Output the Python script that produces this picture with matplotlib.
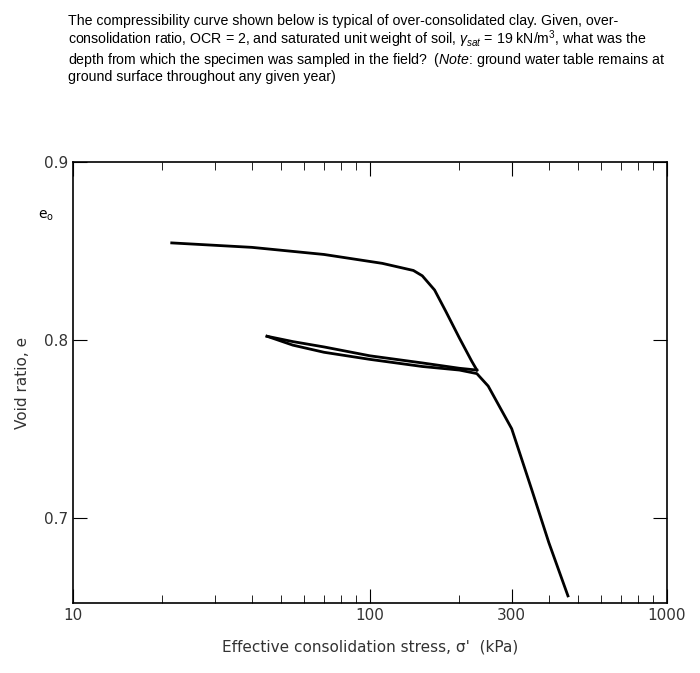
import matplotlib
matplotlib.use("Agg")
import matplotlib.pyplot as plt
import numpy as np

plt.rcParams["mathtext.fontset"] = "custom"
plt.rcParams["mathtext.it"] = "Liberation Sans:italic"
plt.rcParams["mathtext.rm"] = "Liberation Sans"

load_x = [21.5, 40, 70, 110, 140, 150, 165, 180, 200, 220, 229]
load_e = [0.8545, 0.852, 0.848, 0.843, 0.839, 0.836, 0.828, 0.816, 0.801, 0.788, 0.783]
unload_x = [229, 200, 150, 100, 70, 55, 45]
unload_e = [0.783, 0.784, 0.787, 0.791, 0.796, 0.799, 0.802]
reload_x = [45, 55, 70, 100, 150, 200, 229, 250, 300, 350, 400, 464]
reload_e = [0.802, 0.797, 0.793, 0.789, 0.785, 0.783, 0.781, 0.774, 0.750, 0.716, 0.686, 0.656]
xticks = [10, 100, 300, 1000]
xlabels = ["10", "100", "300", "1000"]
yticks = [0.7, 0.8, 0.9]
ylabels = ["0.7", "0.8", "0.9"]

fig = plt.figure(figsize=(7, 6.73), dpi=100)
ax = fig.add_axes([73/700, 1-603/673, (667-73)/700, (603-162)/673])
for x, e in [(load_x, load_e), (unload_x, unload_e), (reload_x, reload_e)]:
    ax.plot(x, e, color="black", lw=2, solid_joinstyle="round")
ax.set_xscale("log")
ax.set_xlim(10, 1000)
ax.set_ylim(0.652, 0.9)
ax.set_xticks(xticks)
ax.set_xticklabels(xlabels, fontsize=11, color="#333")
ax.set_yticks(yticks)
ax.set_yticklabels(ylabels, fontsize=11, color="#333")
ax.tick_params(which="both", direction="in", top=True, right=True, length=10)
ax.tick_params(which="minor", length=6)
ax.text(-0.045, 0.87, r"e$_\mathregular{o}$", transform=ax.get_yaxis_transform(), ha="center", va="center", fontsize=10)
ax.set_xlabel("Effective consolidation stress, σ'  (kPa)", fontsize=11, color="#333", labelpad=12)
ax.set_ylabel("Void ratio, e", fontsize=11, color="#333", labelpad=10)
for s in ax.spines.values():
    s.set_linewidth(1.2)
fig.text(68/700, 1-14/673, "The compressibility curve shown below is typical of over-consolidated clay. Given, over-\n"
         "consolidation ratio, OCR = 2, and saturated unit weight of soil, $\\gamma_{sat}$ = 19 kN/m$^3$, what was the\n"
         "depth from which the specimen was sampled in the field?  ($\\it{Note}$: ground water table remains at\n"
         "ground surface throughout any given year)", fontsize=10.2, va="top", ha="left", family="Liberation Sans", linespacing=1.05)
fig.savefig("out.png", dpi=100)
